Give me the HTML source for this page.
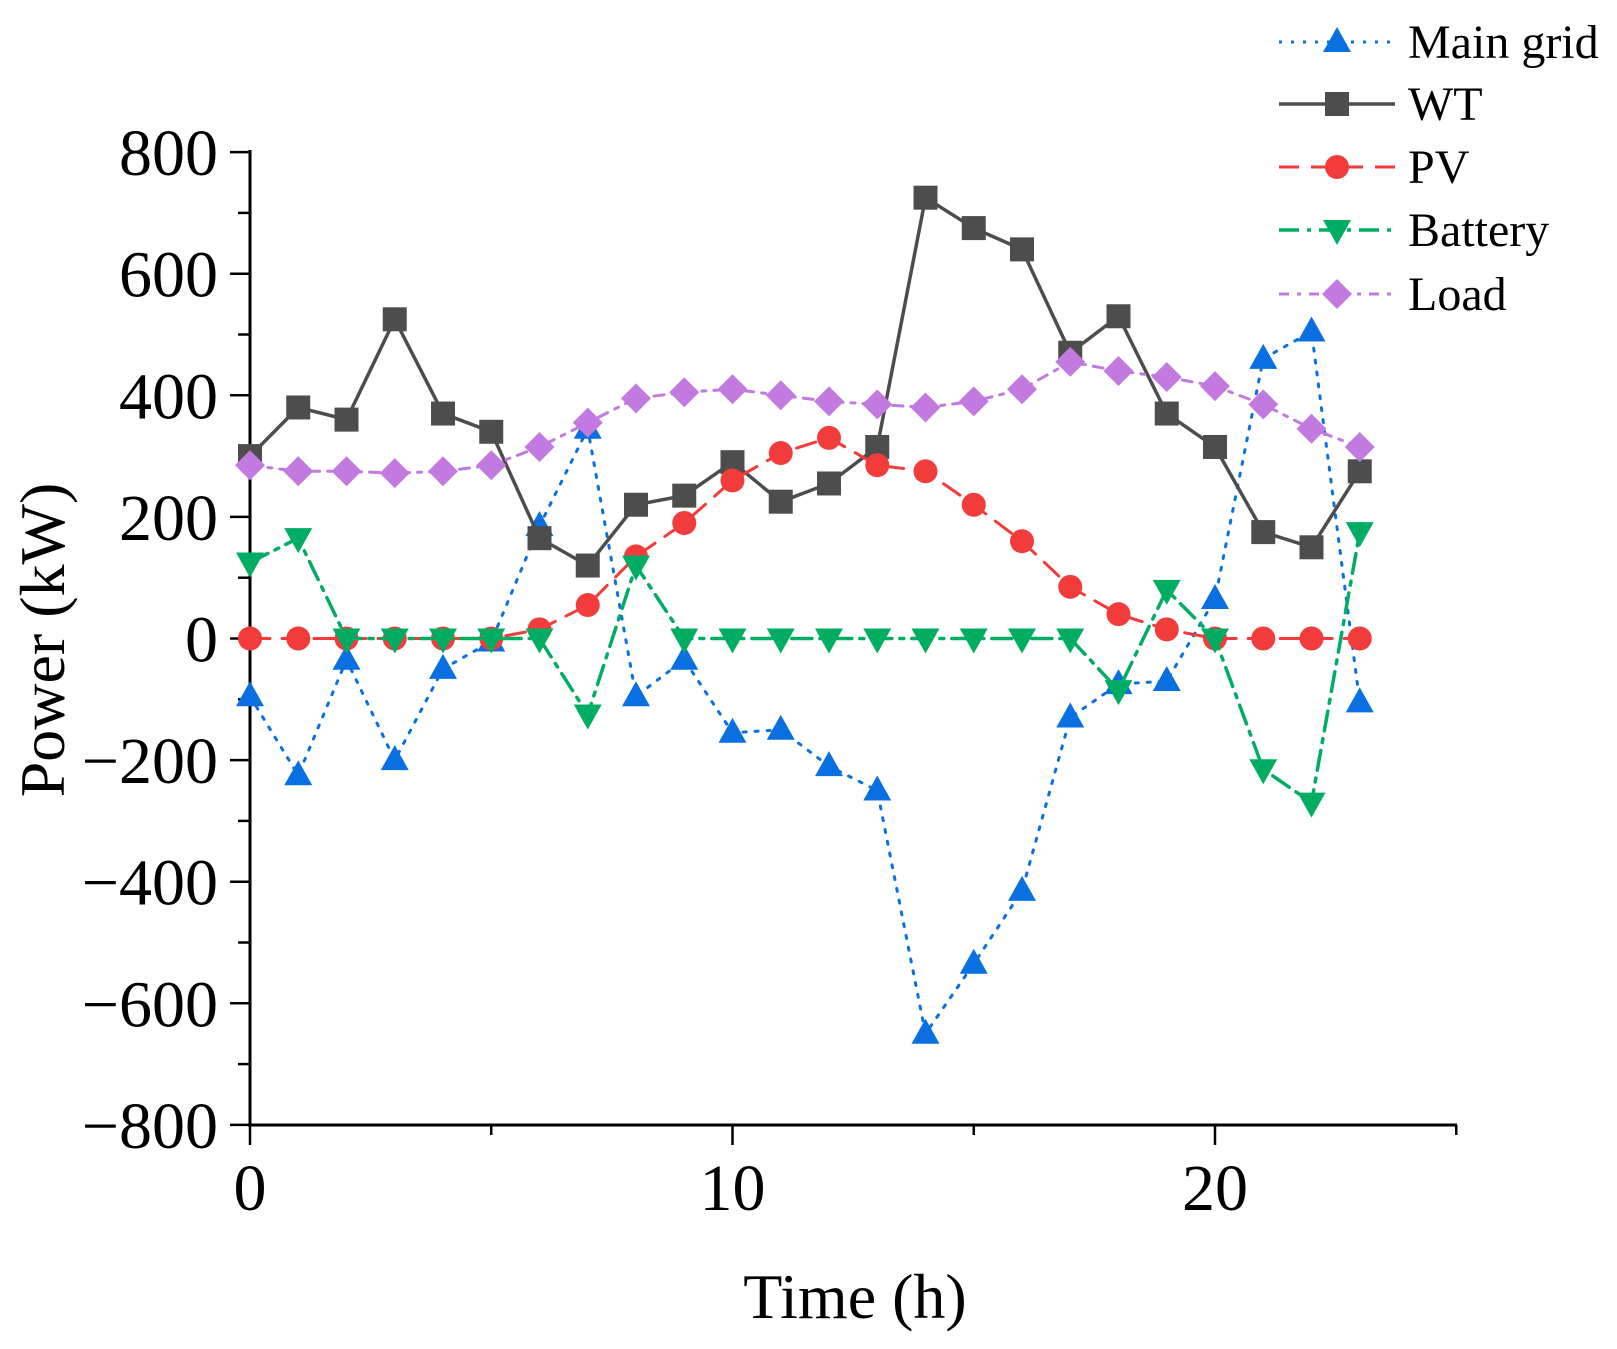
<!DOCTYPE html>
<html><head><meta charset="utf-8"><style>html,body{margin:0;padding:0;background:#fff}svg{display:block}</style></head>
<body>
<svg id="s" width="1617" height="1349" xmlns="http://www.w3.org/2000/svg" font-family="Liberation Serif, serif">
<g id="axes" stroke="#000" stroke-width="3" fill="none">
<line x1="250" y1="150" x2="250" y2="1126"/>
<line x1="248" y1="1125" x2="1457" y2="1125"/>
</g>
<g id="ticks" stroke="#000" stroke-width="2.5"></g>
<g id="labels" font-size="66" fill="#000"></g>
<g id="series"></g>
<text x="855" y="1318" font-size="64" text-anchor="middle">Time (h)</text>
<text transform="translate(64,640) rotate(-90)" font-size="64" text-anchor="middle">Power (kW)</text>
<g id="legend" font-size="48"></g>
</svg>
<script>
const ns="http://www.w3.org/2000/svg";
const X=h=>250+h*48.25, Y=v=>638.5-v*0.608;
function el(p,t,a,txt){const e=document.createElementNS(ns,t);for(const k in a)e.setAttribute(k,a[k]);if(txt!==undefined)e.textContent=txt;document.getElementById(p).appendChild(e);return e;}
for(let v=-800;v<=800;v+=100){const y=Y(v);const major=v%200==0;el('ticks','line',{x1:major?230:238,y1:y,x2:250,y2:y});
 if(major)el('labels','text',{x:218,y:y+23,'text-anchor':'end'},(v<0?'\u2212':'')+Math.abs(v));}
for(let h=0;h<=25;h+=5){const x=X(h);el('ticks','line',{x1:x,y1:1125,x2:x,y2:h%10==0?1145:1135});
 if(h%10==0)el('labels','text',{x:x,y:1210,'text-anchor':'middle'},h);}
const S=[
{c:'#0a6fe0',d:'3 9',w:3,m:'tri',v:[-95,-225,-35,-200,-50,-5,185,345,-95,-35,-155,-150,-210,-250,-650,-535,-415,-130,-75,-70,65,460,505,-105]},
{c:'#4d4d4d',d:'',w:3.5,m:'sq',v:[300,380,360,525,370,340,165,120,220,235,290,225,255,315,725,675,640,470,530,370,315,175,150,275]},
{c:'#f23b3b',d:'20 12',w:3,m:'ci',v:[0,0,0,0,0,0,15,55,135,190,260,305,330,285,275,220,160,85,40,15,0,0,0,0]},
{c:'#00ad62',d:'20 8 4 8',w:3.5,m:'itri',v:[125,165,0,0,0,0,0,-125,120,0,0,0,0,0,0,0,0,0,-85,80,0,-215,-270,175]},
{c:'#c27ae0',d:'10 8 4 8',w:3,m:'dia',v:[285,275,275,272,275,285,315,355,395,405,410,400,390,385,380,390,410,455,440,430,415,385,345,315]}];
function mark(g,m,x,y,c){
 if(m=='tri')el(g,'polygon',{points:`${x},${y-15} ${x-14},${y+10} ${x+14},${y+10}`,fill:c});
 if(m=='itri')el(g,'polygon',{points:`${x},${y+15} ${x-14},${y-10} ${x+14},${y-10}`,fill:c});
 if(m=='sq')el(g,'rect',{x:x-12,y:y-12,width:24,height:24,fill:c});
 if(m=='ci')el(g,'circle',{cx:x,cy:y,r:12,fill:c});
 if(m=='dia')el(g,'polygon',{points:`${x},${y-15} ${x+15},${y} ${x},${y+15} ${x-15},${y}`,fill:c});
}
const names=['Main grid','WT','PV','Battery','Load'],ly=[42,104,167,230,294];
S.forEach((s,i)=>{
 const pts=s.v.map((v,h)=>X(h)+','+Y(v)).join(' ');
 const a={points:pts,fill:'none',stroke:s.c,'stroke-width':s.w,'stroke-linecap':'round'};if(s.d)a['stroke-dasharray']=s.d;
 el('series','polyline',a);
 s.v.forEach((v,h)=>mark('series',s.m,X(h),Y(v),s.c));
 const b={x1:1279,y1:ly[i],x2:1395,y2:ly[i],stroke:s.c,'stroke-width':s.w};if(s.d)b['stroke-dasharray']=s.d;
 el('legend','line',b);mark('legend',s.m,1337,ly[i],s.c);
 el('legend','text',{x:1408,y:ly[i]+16},names[i]);
});
</script>
</body></html>
